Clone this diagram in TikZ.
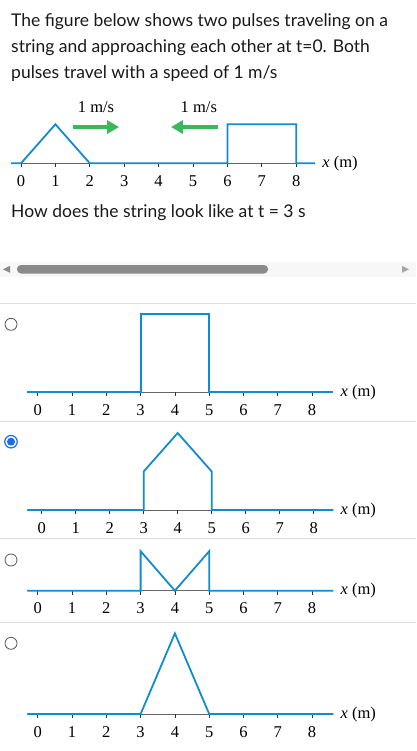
\documentclass[tikz,border=0pt]{standalone}
\usepackage{fontspec}
\setmainfont{Lato}
\newfontfamily\axisfont{Liberation Serif}
\usetikzlibrary{arrows.meta}

\definecolor{stringblue}{RGB}{18,140,208}
\definecolor{arrowgreen}{RGB}{58,184,92}
\definecolor{radioblue}{RGB}{22,110,240}
\definecolor{rulegray}{RGB}{222,222,222}
\definecolor{thumbgray}{RGB}{138,138,138}

% axis with ticks 0..8 and its label; #1 name prefix, #2 left end, #3 right end
\newcommand{\stringaxis}[3]{
    \draw[axisline] (#2,0) -- (#3,0);
    \foreach \i in {0,...,8} {
        \draw[tickmark] (\i,0) -- ++(0,-4pt);
        \node[ticklabel] (#1t\i) at (\i,0) {\i};
    }
    \node[xlabel] (#1x) at (#3,0) {\textit{x} (m)};
}

\begin{document}
\begin{tikzpicture}[
    x=1pt, y=-1pt,
    question/.style={anchor=base west, inner sep=0pt, font=\fontsize{17.5}{20}\selectfont, text=black!90},
    axisline/.style={draw=black!60, line width=0.8pt},
    tickmark/.style={draw=black!80, line width=0.8pt},
    ticklabel/.style={anchor=base, inner sep=0pt, yshift=-23pt, font=\axisfont\fontsize{16.5}{16.5}\selectfont},
    xlabel/.style={anchor=base west, inner sep=0pt, xshift=7pt, yshift=-4pt, font=\axisfont\fontsize{16.5}{16.5}\selectfont},
    speed/.style={anchor=base, inner sep=0pt, font=\axisfont\fontsize{16.5}{16.5}\selectfont},
    pulse/.style={draw=stringblue, line width=1.8pt, line join=miter},
    move/.style={draw=arrowgreen, line width=4.5pt, -{Triangle[length=12pt,width=13pt]}},
    rule/.style={draw=rulegray, line width=0.8pt},
    radio/.style={circle, draw=black!65, line width=0.8pt, minimum size=12pt, inner sep=0pt},
    radiosel/.style={circle, draw=radioblue, line width=1.2pt, minimum size=12.5pt, inner sep=0pt},
    radiodot/.style={circle, fill=radioblue, minimum size=8pt, inner sep=0pt}
]
\useasboundingbox[fill=white] (0,0) rectangle (416,751);

% question text
\node[question] (q1) at (11,26.7) {The figure below shows two pulses traveling on a};
\node[question] (q2) at (11,52.3) {string and approaching each other at t=0. Both};
\node[question] (q3) at (11,78.7) {pulses travel with a speed of 1 m/s};

% t = 0
\begin{scope}[shift={(21pt,-163.3pt)}, x=34.4pt, y=39pt]
    \stringaxis{a}{-0.29}{8.55}
    \draw[pulse] (-0.29,0) -- (0,0) -- (1,1) -- (2,0) -- (6,0) -- (6,1) -- (8,1) -- (8,0) -- (8.55,0);
    \coordinate (rstart) at (1.51,0.93);
    \coordinate (rend) at (2.85,0.93);
    \coordinate (lstart) at (5.73,0.93);
    \coordinate (lend) at (4.36,0.93);
    \draw[move] (rstart) -- (rend);
    \draw[move] (lstart) -- (lend);
    \node[speed] (vr) at (2.18,1.30) {1 m/s};
    \node[speed] (vl) at (5.17,1.30) {1 m/s};
\end{scope}

\node[question] (q4) at (11,217.3) {How does the string look like at t = 3 s};

% scroll bar
\fill[black!3] (0,261.7) rectangle (416,276.7);
\fill[thumbgray, rounded corners=4pt] (17,265) rectangle (268,273.5);
\fill[thumbgray] (3,269.3) -- (10,265.8) -- (10,272.8) -- cycle;
\fill[black!35] (409,269.3) -- (402,265.8) -- (402,272.8) -- cycle;

% separators
\draw[rule] (0,303.3) -- (416,303.3);
\draw[rule] (0,421.5) -- (416,421.5);
\draw[rule] (0,538.3) -- (416,538.3);
\draw[rule] (0,622.3) -- (416,622.3);

% option A
\node[radio] (ra) at (11,324.3) {};
\begin{scope}[shift={(37.7pt,-392.3pt)}, x=34.3pt, y=39pt]
    \stringaxis{b}{-0.30}{8.62}
    \draw[pulse] (-0.30,0) -- (3,0) -- (3,2) -- (5,2) -- (5,0) -- (8.62,0);
\end{scope}

% option B (chosen)
\node[radiosel] (rb) at (11,441.7) {};
\node[radiodot] (rbdot) at (rb) {};
\begin{scope}[shift={(41.7pt,-510pt)}, x=34pt, y=38.5pt]
    \stringaxis{c}{-0.42}{8.58}
    \draw[pulse] (-0.42,0) -- (3,0) -- (3,1) -- (4,2) -- (5,1) -- (5,0) -- (8.58,0);
\end{scope}

% option C
\node[radio] (rc) at (11,560) {};
\begin{scope}[shift={(37.7pt,-590.7pt)}, x=34.3pt, y=39.5pt]
    \stringaxis{d}{-0.30}{8.62}
    \draw[pulse] (-0.30,0) -- (3,0) -- (3,1) -- (4,0) -- (5,1) -- (5,0) -- (8.62,0);
\end{scope}

% option D
\node[radio] (rd) at (11,643.3) {};
\begin{scope}[shift={(37.7pt,-714pt)}, x=34.3pt, y=40.3pt]
    \stringaxis{e}{-0.30}{8.62}
    \draw[pulse] (-0.30,0) -- (3,0) -- (4,2) -- (5,0) -- (8.62,0);
\end{scope}

\end{tikzpicture}
\end{document}
